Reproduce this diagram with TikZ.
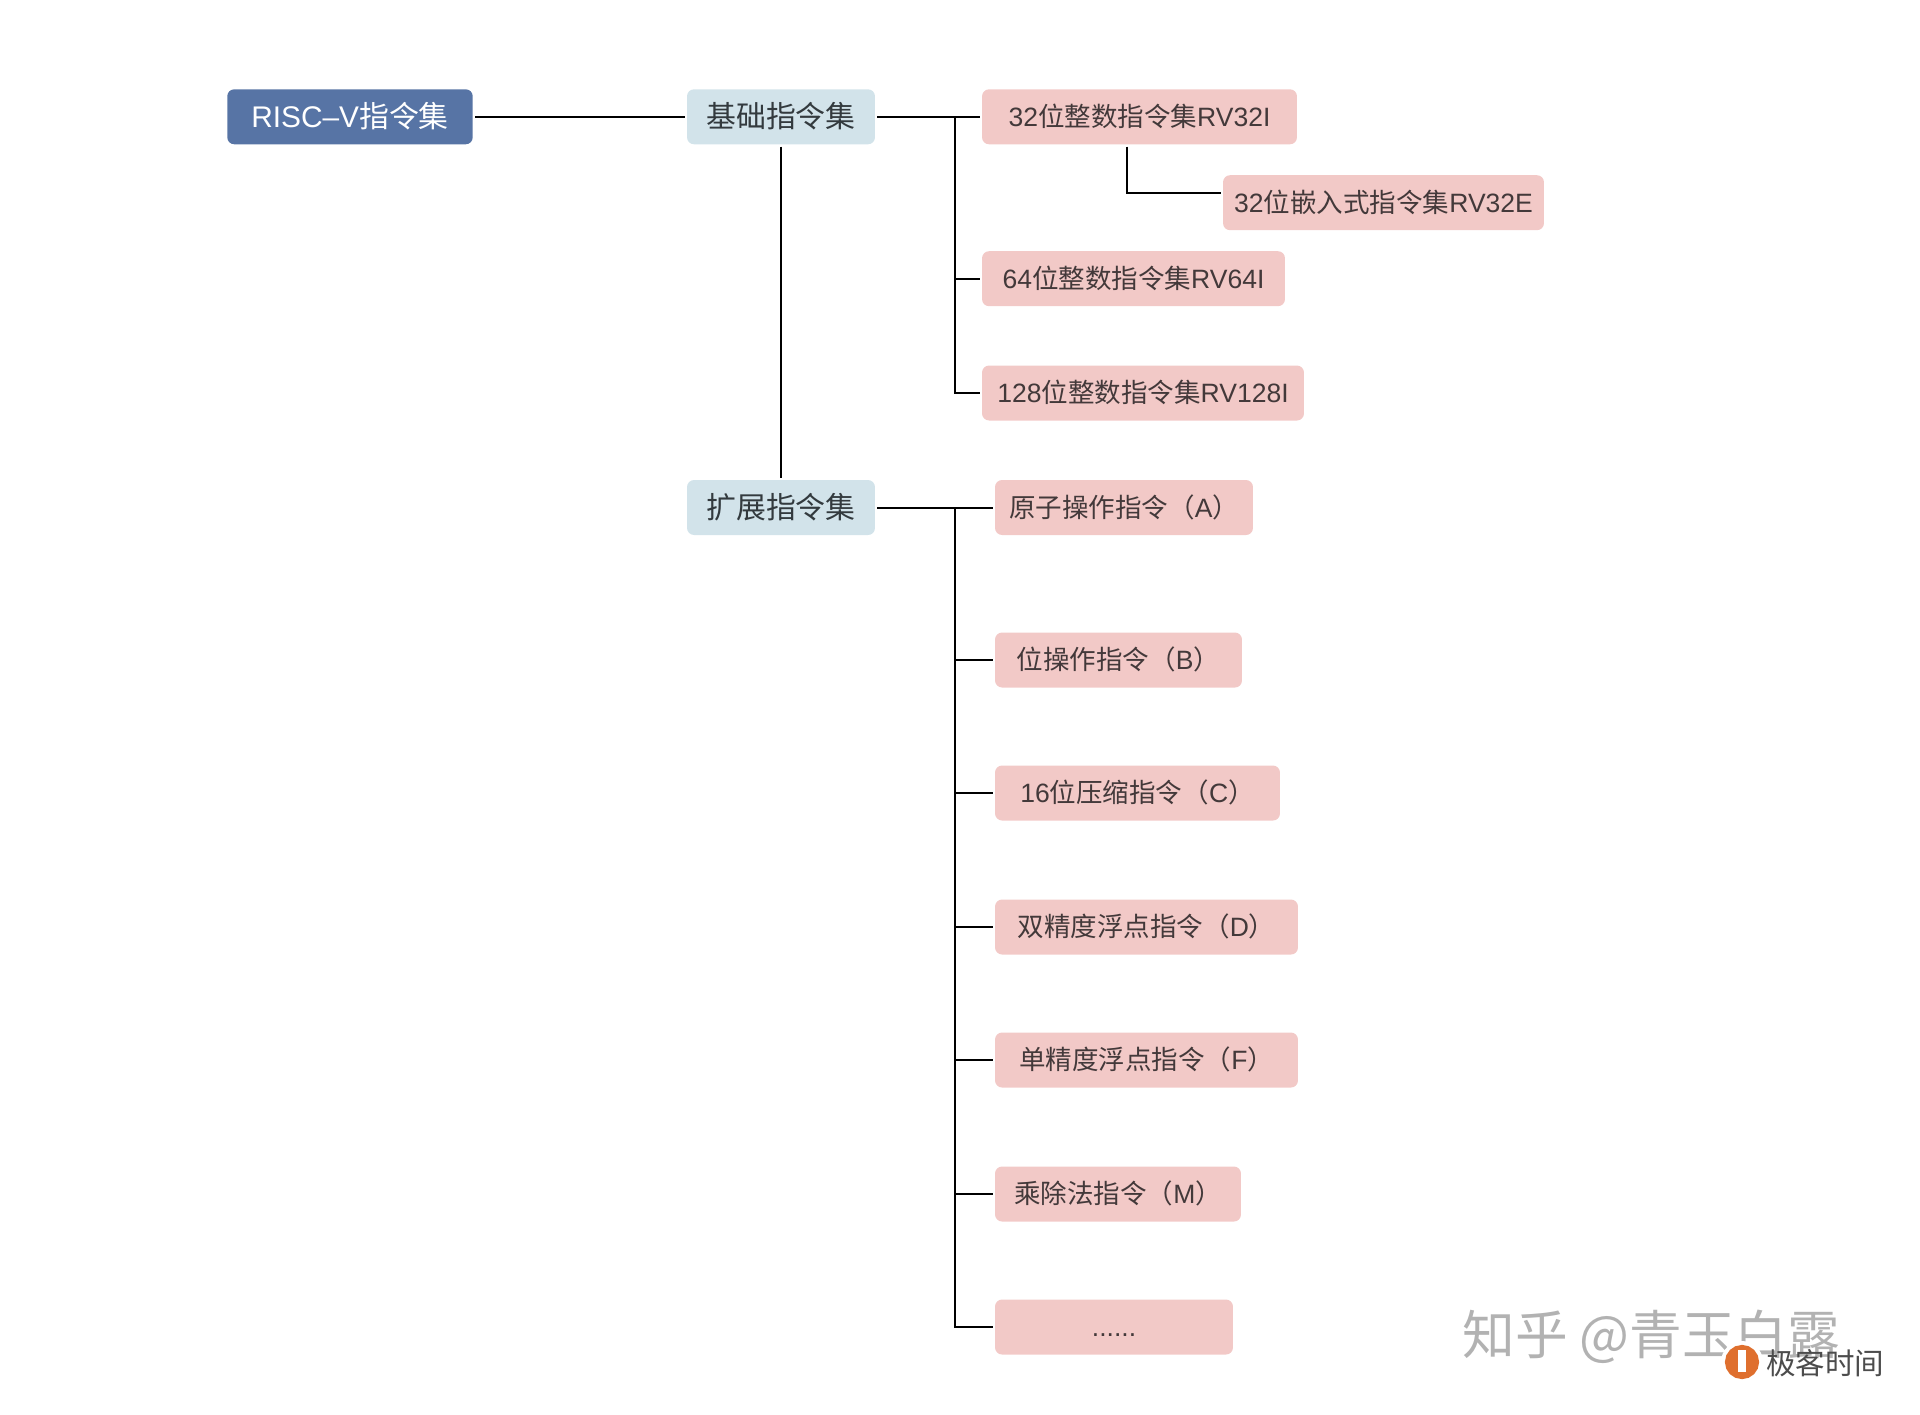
\documentclass[tikz,border=0pt]{standalone}
\usepackage{xcolor, fontspec}
\setmainfont{Liberation Sans}
\newfontfamily\cjk{Noto Sans CJK SC}
\definecolor{rootblue}{HTML}{5774A5}
\definecolor{midblue}{HTML}{D2E3EA}
\definecolor{leafpink}{HTML}{F2C9C7}
\definecolor{leaftext}{HTML}{43393A}
\definecolor{midtext}{HTML}{333A3E}
\definecolor{logoorange}{HTML}{DF6F2E}
\tikzset{
	anybox/.style={rounded corners=0.14cm, inner sep=0pt, outer sep=1.3pt, minimum height=1.1cm},
	rootbox/.style={anybox, fill=rootblue, text=white, font=\fontsize{17}{20}\selectfont, text height=0.43cm, text depth=0pt},
	midbox/.style={anybox, fill=midblue, text=midtext, font=\fontsize{17}{20}\selectfont, text height=0.43cm, text depth=0pt},
	leafbox/.style={anybox, fill=leafpink, text=leaftext, font=\fontsize{15.1}{18}\selectfont, text height=0.38cm, text depth=0pt},
	link/.style={draw=black, line width=1.15pt}
}

\begin{document}
\begin{tikzpicture}[x=0.02cm, y=-0.02cm]
	\useasboundingbox (0,0) rectangle (1920,1414);
	\node[rootbox, minimum width=4.91cm] (riscv) at (350,116.8) {RISC–V{\cjk 指令集}};
	\node[midbox, minimum width=3.76cm] (base) at (781,116.8) {\cjk 基础指令集};
	\node[midbox, minimum width=3.76cm] (ext) at (781,507.5) {\cjk 扩展指令集};
	\node[leafbox, minimum width=6.3cm] (rv32i) at (1139.5,116.8) {32{\cjk 位整数指令集}RV32I};
	\node[leafbox, minimum width=6.42cm] (rv32e) at (1383.5,202.7) {32{\cjk 位嵌入式指令集}RV32E};
	\node[leafbox, minimum width=6.06cm] (rv64i) at (1133.5,278.7) {64{\cjk 位整数指令集}RV64I};
	\node[leafbox, minimum width=6.44cm] (rv128i) at (1143,393) {128{\cjk 位整数指令集}RV128I};
	\node[leafbox, minimum width=5.16cm] (exta) at (1124,507.5) {{\cjk 原子操作指令（}A{\cjk ）}};
	\node[leafbox, minimum width=4.94cm] (extb) at (1118.5,660) {{\cjk 位操作指令（}B{\cjk ）}};
	\node[leafbox, minimum width=5.7cm] (extc) at (1137.5,793) {16{\cjk 位压缩指令（}C{\cjk ）}};
	\node[leafbox, minimum width=6.06cm] (extd) at (1146.5,927) {{\cjk 双精度浮点指令（}D{\cjk ）}};
	\node[leafbox, minimum width=6.06cm] (extf) at (1146.5,1060) {{\cjk 单精度浮点指令（}F{\cjk ）}};
	\node[leafbox, minimum width=4.92cm] (extm) at (1118,1194) {{\cjk 乘除法指令（}M{\cjk ）}};
	\node[leafbox, minimum width=4.76cm] (extmore) at (1114,1327) {......};
	\coordinate (basefork) at (955,116.8);
	\coordinate (extfork) at (955,507.5);
	\coordinate (embfork) at (1126.5,192.7);
	\draw[link] (riscv) -- (base);
	\draw[link] (base) -- (ext);
	\draw[link] (base) -- (rv32i);
	\draw[link] (basefork) |- (rv64i);
	\draw[link] (basefork) |- (rv128i);
	\draw[link] (rv32i.south -| embfork) -- (embfork) -- (rv32e.west |- embfork);
	\draw[link] (ext) -- (exta);
	\draw[link] (extfork) |- (extb);
	\draw[link] (extfork) |- (extc);
	\draw[link] (extfork) |- (extd);
	\draw[link] (extfork) |- (extf);
	\draw[link] (extfork) |- (extm);
	\draw[link] (extfork) |- (extmore);
	\node[anchor=west, inner sep=0pt, text=black!30, font=\cjk\fontsize{30}{36}\selectfont] (zhihu) at (1462,1337) {知乎 @青玉白露};
	\fill[white] (1742,1362) circle (21);
	\draw[logoorange, line width=2.6mm] (1742,1362) circle (10.5);
	\fill[white] (1738,1350) rectangle (1746,1372);
	\node[anchor=west, inner sep=0pt, text=black!70, font=\cjk\fontsize{16.8}{20}\selectfont] (geek) at (1766,1363) {极客时间};
\end{tikzpicture}
\end{document}
